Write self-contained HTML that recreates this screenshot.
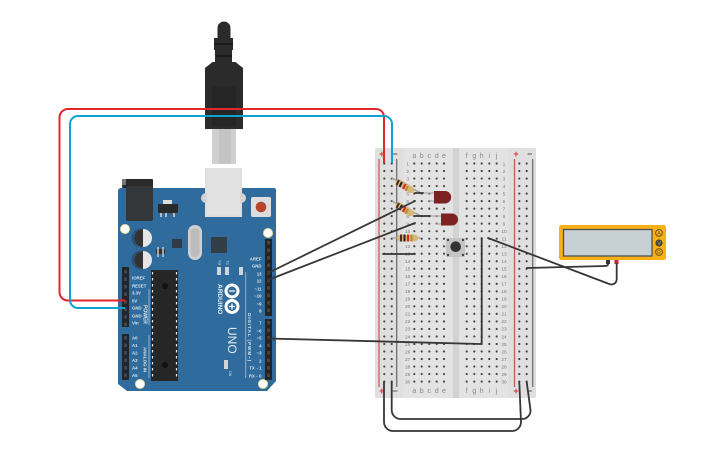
<!DOCTYPE html>
<html><head><meta charset="utf-8"><style>
html,body{margin:0;padding:0;background:#fff}
svg{display:block}
text{font-family:"Liberation Sans",sans-serif}
.h{stroke:#444;stroke-width:2.2;stroke-linecap:round;stroke-dasharray:0 7.52;fill:none}
.n{font-size:4.800px;fill:#777;text-anchor:middle}
.l{font-size:7px;fill:#888;text-anchor:middle}
.p{font-size:4.300px;fill:#dbe6ee;font-weight:bold}
.e{text-anchor:end}
.w{fill:none;stroke:#363636;stroke-width:1.800;stroke-linecap:round;stroke-linejoin:round}
</style></head><body>
<svg width="725" height="453" viewBox="0 0 725 453" xmlns="http://www.w3.org/2000/svg">
<!-- USB -->
<path d="M217.500 38V28a6.500 6.500 0 0 1 13 0V38h2.500V50h-1V62h3.500L243 68V129H205V68l7.500-6h2.500V50h-1V38z" fill="#2b2b2b"/>
<rect x="215" y="43" width="18" height="2" fill="#1a1a1a"/>
<rect x="216" y="55" width="16" height="2" fill="#1a1a1a"/>
<rect x="212" y="86" width="24" height="40" fill="#262626"/>
<rect x="212" y="129" width="24" height="35" fill="#cfcfcf"/>
<rect x="219" y="129" width="12" height="35" fill="#c4c4c4"/>
<!-- Arduino -->
<path d="M121 188H274a2 2 0 0 1 2 2V381L267 391H127L118 384V191a3 3 0 0 1 3-3z" fill="#2f6b9c"/>
<rect x="205" y="168" width="37" height="49" fill="#dedede"/>
<rect x="201" y="193" width="45" height="10" rx="5" fill="#d4d4d4"/>
<rect x="207" y="168" width="33" height="47" fill="#e2e2e2"/>
<rect x="122" y="179" width="31" height="9" rx="1" fill="#2a2a2a"/>
<rect x="122" y="179" width="4" height="6" fill="#777"/>
<rect x="126" y="186" width="27" height="35" rx="2" fill="#33373a"/>
<rect x="163" y="200" width="9" height="5" fill="#ddd"/>
<rect x="158" y="204" width="20" height="9" fill="#2a2a2a"/>
<path d="M161 213v4M166 213v4M174 213v4" stroke="#bbb" stroke-width="2"/>
<rect x="251" y="197" width="20" height="20" rx="2" fill="#ddd"/>
<circle cx="261" cy="207" r="5.300" fill="#b5452c"/>
<g fill="#fff" stroke="#e9dca0" stroke-width="1"><circle cx="125" cy="229" r="4.500"/><circle cx="268" cy="233" r="4.500"/><circle cx="140" cy="384" r="4.500"/><circle cx="263" cy="384" r="4.500"/></g>
<circle cx="141" cy="238" r="9.500" fill="#23527a"/><circle cx="143" cy="238" r="9" fill="#e6e6e6"/><path d="M143 229a9 9 0 0 0 0 18z" fill="#333"/>
<circle cx="141" cy="260" r="9.500" fill="#23527a"/><circle cx="143" cy="260" r="9" fill="#e6e6e6"/><path d="M143 251a9 9 0 0 0 0 18z" fill="#333"/>
<rect x="188" y="225" width="14" height="35" rx="7" fill="#cfcfcf"/><rect x="190.500" y="228" width="9" height="29" rx="4.500" fill="#bcbcbc"/>
<rect x="172" y="239" width="10" height="9" fill="#2e3b45"/>
<rect x="211" y="237" width="16" height="16" fill="#333d45"/>
<rect x="156" y="249" width="9" height="5" fill="#333"/><path d="M158 247v10M163 247v10" stroke="#ccc" stroke-width="1.500"/>
<rect x="151" y="270" width="27" height="111" fill="#262626"/>
<path d="M152.500 272V380M176.500 272V380" stroke="#eee" stroke-width="1.200" stroke-dasharray="2.500 3.500"/>
<circle cx="165" cy="286" r="3" fill="#111"/><circle cx="165" cy="365" r="3" fill="#111"/>
<g fill="#242424"><rect x="122" y="267" width="7" height="60"/><rect x="122" y="334" width="7" height="46"/><rect x="265" y="239" width="7" height="77"/><rect x="265" y="319" width="7" height="61"/></g>
<g stroke="#444" stroke-width="3" fill="none" stroke-dasharray="3.500 4.020"><path d="M125.500 270V327M125.500 336V380M268.500 241V316M268.500 321V380"/></g>
<g fill="#cfd6da"><rect x="217" y="267" width="4" height="8"/><rect x="225" y="267" width="4" height="8"/><rect x="239" y="267" width="4" height="8"/><rect x="224" y="360" width="4" height="9"/></g>
<path d="M245.700 272V378M149 289V325M149 335V378" stroke="#8fb3cf" stroke-width="1" fill="none"/>
<g class="p">
<text x="132" y="279.500">IOREF</text><text x="132" y="287.500">RESET</text><text x="132" y="294.500">3.3V</text><text x="132" y="302.500">5V</text><text x="132" y="309.500">GND</text><text x="132" y="317.500">GND</text><text x="132" y="324.500">Vin</text>
<text x="132" y="339.500">A0</text><text x="132" y="347">A1</text><text x="132" y="354.500">A2</text><text x="132" y="362">A3</text><text x="132" y="369.500">A4</text><text x="132" y="377">A5</text>
</g>
<g class="p e">
<text x="261.500" y="260.500">AREF</text><text x="261.500" y="267.500">GND</text><text x="261.500" y="275.500">13</text><text x="261.500" y="282.500">12</text><text x="261.500" y="290.500">~11</text><text x="261.500" y="297.500">~10</text><text x="261.500" y="305.500">~9</text><text x="261.500" y="312.500">8</text>
<text x="261.500" y="324.500">7</text><text x="261.500" y="332.500">~6</text><text x="261.500" y="339.500">~5</text><text x="261.500" y="347.500">4</text><text x="261.500" y="354.500">~3</text><text x="261.500" y="362.500">2</text><text x="261.500" y="369.500">TX→1</text><text x="261.500" y="377.500">RX←0</text>
</g>
<text class="p" transform="translate(143.500,305) rotate(90)" style="font-size:5px">POWER</text>
<text class="p" transform="translate(143.500,347) rotate(90)" style="font-size:4.500px">ANALOG IN</text>
<text class="p" transform="translate(248,313) rotate(90)" style="font-size:4.800px;letter-spacing:.8px">DIGITAL (PWM~)</text>
<text transform="translate(218,284) rotate(90)" style="font-size:6.500px;font-weight:bold;fill:#e8eef3">ARDUINO</text>
<text transform="translate(228,327) rotate(90)" style="font-size:12px;fill:#dfe8ef">UNO</text>
<text transform="translate(221,265) rotate(-90)" style="font-size:3.500px;fill:#dbe6ee">RX</text>
<text transform="translate(229,265) rotate(-90)" style="font-size:3.500px;fill:#dbe6ee">TX</text>
<text transform="translate(229,371) rotate(90)" style="font-size:3.500px;fill:#dbe6ee">ON</text>
<g fill="none" stroke="#fff" stroke-width="3"><circle cx="232" cy="291" r="6"/><circle cx="232" cy="306.500" r="6"/></g>
<path d="M229 291h6M229 306.500h6M232 303.500v6" stroke="#fff" stroke-width="1.300"/>
<!-- Breadboard -->
<rect x="375" y="148" width="161" height="250" rx="2" fill="#dfdfdf"/>
<rect x="403" y="148" width="105" height="250" fill="#e3e3e3"/>
<rect x="453" y="148" width="6" height="250" fill="#d2d2d2"/>
<path d="M379 159V387M514.500 159V387" stroke="#c9544f" stroke-width="1.200"/>
<path d="M396.700 159V387M532.700 159V387" stroke="#666" stroke-width="1.200"/>
<path class="h" d="M384.300 163.500V382M391.700 163.500V382M414.300 163.500V382M421.700 163.500V382M429.300 163.500V382M436.700 163.500V382M444 163.500V382M466.700 163.500V382M474.300 163.500V382M481.700 163.500V382M489.300 163.500V382M496.700 163.500V382M519.300 163.500V382M526.700 163.500V382"/>
<g class="l">
<text x="414.300" y="158">a</text><text x="421.700" y="158">b</text><text x="429.300" y="158">c</text><text x="436.700" y="158">d</text><text x="444" y="158">e</text>
<text x="466.700" y="158">f</text><text x="474.300" y="158">g</text><text x="481.700" y="158">h</text><text x="489.300" y="158">i</text><text x="496.700" y="158">j</text>
<text x="414.300" y="393">a</text><text x="421.700" y="393">b</text><text x="429.300" y="393">c</text><text x="436.700" y="393">d</text><text x="444" y="393">e</text>
<text x="466.700" y="393">f</text><text x="474.300" y="393">g</text><text x="481.700" y="393">h</text><text x="489.300" y="393">i</text><text x="496.700" y="393">j</text>
</g>
<g style="font-size:9px;font-weight:bold;text-anchor:middle">
<text x="381.700" y="157" fill="#d33">+</text><text x="395" y="157" fill="#555">−</text><text x="516" y="157" fill="#d33">+</text><text x="529.700" y="157" fill="#555">−</text>
<text x="381.700" y="394" fill="#d33">+</text><text x="395" y="394" fill="#555">−</text><text x="516" y="394" fill="#d33">+</text><text x="529.700" y="394" fill="#555">−</text>
</g>
<g class="n">
<text x="407.700" y="165.300">1</text><text x="407.700" y="172.800">2</text><text x="407.700" y="180.300">3</text><text x="407.700" y="187.900">4</text><text x="407.700" y="195.400">5</text><text x="407.700" y="202.900">6</text><text x="407.700" y="210.400">7</text><text x="407.700" y="217.900">8</text><text x="407.700" y="225.500">9</text><text x="407.700" y="233">10</text><text x="407.700" y="240.500">11</text><text x="407.700" y="248">12</text><text x="407.700" y="255.500">13</text><text x="407.700" y="263.100">14</text><text x="407.700" y="270.600">15</text><text x="407.700" y="278.100">16</text><text x="407.700" y="285.600">17</text><text x="407.700" y="293.100">18</text><text x="407.700" y="300.700">19</text><text x="407.700" y="308.200">20</text><text x="407.700" y="315.700">21</text><text x="407.700" y="323.200">22</text><text x="407.700" y="330.700">23</text><text x="407.700" y="338.300">24</text><text x="407.700" y="345.800">25</text><text x="407.700" y="353.300">26</text><text x="407.700" y="360.800">27</text><text x="407.700" y="368.300">28</text><text x="407.700" y="375.900">29</text><text x="407.700" y="383.400">30</text>
<text x="504" y="165.300">1</text><text x="504" y="172.800">2</text><text x="504" y="180.300">3</text><text x="504" y="187.900">4</text><text x="504" y="195.400">5</text><text x="504" y="202.900">6</text><text x="504" y="210.400">7</text><text x="504" y="217.900">8</text><text x="504" y="225.500">9</text><text x="504" y="233">10</text><text x="504" y="240.500">11</text><text x="504" y="248">12</text><text x="504" y="255.500">13</text><text x="504" y="263.100">14</text><text x="504" y="270.600">15</text><text x="504" y="278.100">16</text><text x="504" y="285.600">17</text><text x="504" y="293.100">18</text><text x="504" y="300.700">19</text><text x="504" y="308.200">20</text><text x="504" y="315.700">21</text><text x="504" y="323.200">22</text><text x="504" y="330.700">23</text><text x="504" y="338.300">24</text><text x="504" y="345.800">25</text><text x="504" y="353.300">26</text><text x="504" y="360.800">27</text><text x="504" y="368.300">28</text><text x="504" y="375.900">29</text><text x="504" y="383.400">30</text>
</g>
<!-- Button -->
<rect x="446" y="238" width="19" height="19" fill="#c4c4c4"/>
<circle cx="455.700" cy="246.700" r="5.300" fill="#333"/>
<g fill="#444"><circle cx="448" cy="240" r="1.200"/><circle cx="463" cy="240" r="1.200"/><circle cx="448" cy="255" r="1.200"/><circle cx="463" cy="255" r="1.200"/></g>
<!-- Resistors -->
<g stroke="#999" stroke-width="1.300"><path d="M391.700 178L421 193M391.700 201L421 216M391.700 238H421"/></g>
<g stroke="#d8b679" stroke-width="6.500" stroke-linecap="round"><path d="M399 182.500L411 190M399 205.500L411 213M400 238H415"/></g>
<g stroke-width="2">
<path d="M399 180L396.500 185" stroke="#4a2c14"/><path d="M402 182L399.500 187" stroke="#222"/><path d="M405.500 184L403 189" stroke="#d22"/><path d="M408 186L405.500 191" stroke="#b98a2c"/>
<path d="M399 203L396.500 208" stroke="#4a2c14"/><path d="M402 205L399.500 210" stroke="#222"/><path d="M405.500 207L403 212" stroke="#d22"/><path d="M408 209L405.500 214" stroke="#b98a2c"/>
<path d="M401 234.500V241.500" stroke="#4a2c14"/><path d="M404.500 234.500V241.500" stroke="#222"/><path d="M408 234.500V241.500" stroke="#d22"/><path d="M411.500 234.500V241.500" stroke="#b98a2c"/>
</g>
<!-- LEDs -->
<path d="M423 193H434M429 201H434M430 216H441M436 224H441" stroke="#aaa" stroke-width="1.300"/>
<path d="M434 191H445a6 6 0 0 1 0 12.500H434z" fill="#7d2222"/>
<path d="M441 213.500H452a6 6 0 0 1 0 12H441z" fill="#7d2222"/>
<!-- Meter -->
<rect x="559" y="225" width="107" height="35" rx="2.500" fill="#f8b017"/>
<rect x="563.500" y="229.500" width="88.500" height="26.500" fill="#c7d0d2" stroke="#4d5252" stroke-width="1.300"/>
<g stroke="#6b5320" stroke-width="1" fill="none"><circle cx="659" cy="233" r="3.400"/><circle cx="659" cy="252" r="3.400"/></g>
<circle cx="659" cy="243" r="3.600" fill="#444"/>
<text x="659" y="235" style="font-size:5px;text-anchor:middle;fill:#6b5320">A</text>
<text x="659" y="245" style="font-size:5px;text-anchor:middle;fill:#f8b017">V</text>
<text x="659" y="254" style="font-size:5px;text-anchor:middle;fill:#6b5320">R</text>
<rect x="606" y="260" width="4" height="4" fill="#333"/>
<rect x="614.500" y="260" width="4" height="4" fill="#c8242a"/>
<!-- Wires -->
<path class="w" d="M384 382L384 422a9 9 0 0 0 9 9H512a9 9 0 0 0 9-9L519.300 382"/>
<path class="w" d="M391.700 382V410a9 9 0 0 0 9 9H522a8.500 8.500 0 0 0 8.500-9L526.700 382"/>
<path class="w" d="M415 193H423M415 216H430M383 254H415"/>
<path class="w" d="M268 273L415 201M268 280L415 223"/>
<path class="w" d="M268 338.500L480 344Q481.700 344 481.700 342V238"/>
<path class="w" d="M488 238L608 283.500Q612 285.500 614.500 283.500Q616.700 282 616.700 279V264"/>
<path class="w" d="M526.700 268L605 266Q608 266 608 264"/>
<path d="M384 163V117a8 8 0 0 0-8-8H68a8.500 8.500 0 0 0-8.500 8.500V292a8.500 8.500 0 0 0 8.500 8.500H125" fill="none" stroke="#e1262d" stroke-width="2"/>
<path d="M392 163V124a8 8 0 0 0-8-8H78a8 8 0 0 0-8 8V300a8 8 0 0 0 8 8H125" fill="none" stroke="#0da2d2" stroke-width="2"/>
</svg>
</body></html>
